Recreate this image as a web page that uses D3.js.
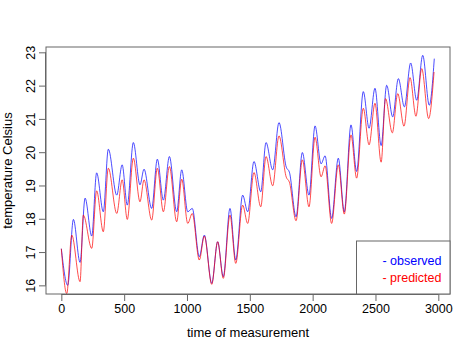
<!DOCTYPE html>
<html>
<head>
<meta charset="utf-8">
<script src="https://cdn.jsdelivr.net/npm/d3@7"></script>
<style>
  html, body { margin: 0; padding: 0; background: #fff; }
  svg { display: block; font-family: "Liberation Sans", Arial, sans-serif; }
</style>
</head>
<body>
<svg id="chart" width="474" height="352"></svg>
<script>
// ---- data (extrema of each series) ----
const obsTime = [0, 51, 96, 149, 189, 242, 281, 334, 374, 441, 484, 525, 573, 626, 658, 719, 764, 812, 860, 918, 958, 1006, 1042, 1098, 1138, 1197, 1244, 1289, 1342, 1388, 1443, 1483, 1533, 1587, 1629, 1682, 1732, 1790, 1815, 1868, 1918, 1971, 2019, 2067, 2099, 2151, 2204, 2252, 2305, 2350, 2403, 2449, 2496, 2545, 2589, 2637, 2682, 2730, 2780, 2828, 2876, 2928, 2968];
const obsTemp = [17.1, 16.0, 17.98, 16.69, 18.62, 17.48, 19.38, 18.21, 20.09, 18.71, 19.62, 18.41, 20.29, 19.02, 19.49, 18.31, 19.79, 18.56, 19.87, 18.21, 19.47, 18.21, 18.31, 16.86, 17.51, 16.06, 17.31, 16.26, 18.31, 16.76, 18.71, 18.21, 19.72, 18.81, 20.29, 19.47, 20.89, 19.55, 19.4, 18.06, 19.99, 18.71, 20.79, 19.65, 19.89, 18.01, 19.82, 18.21, 20.82, 19.42, 21.82, 20.72, 21.92, 20.2, 22.01, 21.06, 22.21, 21.36, 22.68, 21.56, 22.91, 21.41, 22.81];
const predTime = [0, 43, 83, 149, 175, 242, 281, 334, 374, 441, 484, 525, 573, 626, 658, 719, 764, 812, 860, 918, 958, 1006, 1042, 1098, 1138, 1197, 1244, 1289, 1342, 1388, 1443, 1483, 1533, 1587, 1629, 1682, 1732, 1790, 1815, 1868, 1918, 1971, 2019, 2067, 2099, 2151, 2204, 2252, 2305, 2350, 2403, 2449, 2496, 2545, 2580, 2634, 2677, 2727, 2775, 2822, 2868, 2923, 2966];
const predTemp = [17.1, 15.75, 17.51, 16.11, 18.11, 17.11, 18.84, 17.61, 19.52, 18.16, 19.17, 17.98, 19.82, 18.51, 19.17, 17.96, 19.52, 18.21, 19.57, 17.91, 19.19, 17.86, 18.16, 16.76, 17.48, 16.03, 17.31, 16.21, 18.11, 16.66, 18.41, 17.86, 19.39, 18.36, 19.87, 18.99, 20.49, 19.25, 19.1, 17.94, 19.77, 18.36, 20.45, 19.26, 19.59, 17.86, 19.62, 18.14, 20.52, 19.22, 21.32, 20.22, 21.47, 19.7, 21.61, 20.58, 21.76, 20.78, 22.24, 21.08, 22.51, 21.01, 22.41];
const xTicks = [0, 500, 1000, 1500, 2000, 2500, 3000];
const yTicks = [16, 17, 18, 19, 20, 21, 22, 23];
const seriesNames = ["- observed", "- predicted"];
const seriesColors = ["blue", "red"];

// ---- layout ----
const svg = d3.select("#chart");
const L = 46, R = 450, T = 47, B = 294;
const x = d3.scaleLinear().domain([-122, 3093]).range([L, R]);
const y = d3.scaleLinear().domain([15.74, 23.16]).range([B, T]);
const axisColor = "#666";
const fontSize = "12.5px";

svg.append("defs").append("clipPath").attr("id", "clip")
  .append("rect").attr("x", L).attr("y", T).attr("width", R - L).attr("height", B - T);

// series
const line = d3.line().x(d => x(d[0])).y(d => y(d[1])).curve(d3.curveMonotoneX);
const series = [
  obsTime.map((t, i) => [t, obsTemp[i]]),
  predTime.map((t, i) => [t, predTemp[i]])
];
const g = svg.append("g").attr("clip-path", "url(#clip)");
series.forEach((s, i) => {
  g.append("path").datum(s)
    .attr("d", line)
    .attr("fill", "none")
    .attr("stroke", seriesColors[i])
    .attr("stroke-opacity", 0.7)
    .attr("stroke-width", 1);
});

// box
svg.append("rect").attr("x", L).attr("y", T).attr("width", R - L).attr("height", B - T)
  .attr("fill", "none").attr("stroke", axisColor).attr("stroke-width", 1);

// x axis
const xAxis = d3.axisBottom(x).tickValues(xTicks).tickSize(7).tickPadding(3).tickFormat(d3.format("d"));
const gx = svg.append("g").attr("transform", `translate(0,${B})`).call(xAxis);
gx.select(".domain").attr("d", `M${x(0)},0.5H${x(3000)}`).attr("stroke", axisColor);
gx.selectAll(".tick line").attr("stroke", axisColor);
gx.selectAll(".tick text").attr("fill", "#000").style("font-size", fontSize)
  .style("font-family", "'Liberation Sans', Arial, sans-serif");

// y axis
const yAxis = d3.axisLeft(y).tickValues(yTicks).tickSize(7).tickPadding(3).tickFormat(d3.format("d"));
const gy = svg.append("g").attr("transform", `translate(${L},0)`).call(yAxis);
gy.select(".domain").attr("d", `M-0.5,${y(16)}V${y(23)}`).attr("stroke", axisColor);
gy.selectAll(".tick line").attr("stroke", axisColor);
gy.selectAll(".tick text")
  .attr("fill", "#000")
  .attr("x", 0).attr("dy", null)
  .attr("text-anchor", "middle")
  .attr("transform", "translate(-11,0) rotate(-90)")
  .attr("y", 0)
  .style("font-size", fontSize)
  .style("font-family", "'Liberation Sans', Arial, sans-serif");

// axis titles
svg.append("text").attr("x", (L + R) / 2).attr("y", 336.5)
  .attr("text-anchor", "middle").style("font-size", "13px").text("time of measurement");
svg.append("text").attr("transform", `translate(11.5,${(T + B) / 2}) rotate(-90)`)
  .attr("text-anchor", "middle").style("font-size", "13px").text("temperature Celsius");

// legend
const legX = 356.5, legY = 241;
svg.append("rect").attr("x", legX).attr("y", legY).attr("width", R - legX).attr("height", B - legY)
  .attr("fill", "#fff").attr("stroke", axisColor).attr("stroke-width", 1);
seriesNames.forEach((n, i) => {
  svg.append("text").attr("x", 441.5).attr("y", 264.5 + i * 17.3)
    .attr("text-anchor", "end").attr("fill", seriesColors[i])
    .style("font-size", fontSize).text(n);
});
</script>
</body>
</html>
